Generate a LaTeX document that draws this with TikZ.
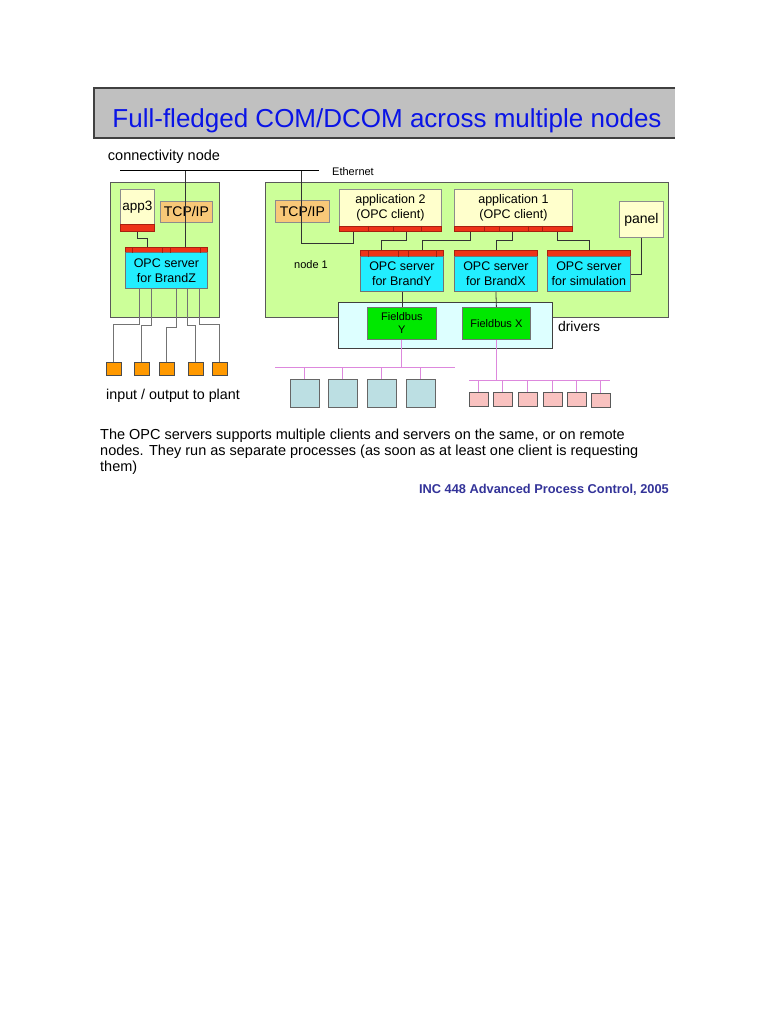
\documentclass[tikz,border=0pt]{standalone}
\usepackage{fontspec}
\setmainfont{Liberation Sans}
\definecolor{titlegray}{HTML}{C0C0C0}
\definecolor{titleblue}{HTML}{0A14E6}
\definecolor{nodegreen}{HTML}{CCFF99}
\definecolor{cream}{HTML}{FFFFCC}
\definecolor{tcporange}{HTML}{F8C878}
\definecolor{srvcyan}{HTML}{22EEFF}
\definecolor{barred}{HTML}{EE3318}
\definecolor{bardark}{HTML}{A82010}
\definecolor{drvcyan}{HTML}{DDFFFF}
\definecolor{fbgreen}{HTML}{00E800}
\definecolor{iorange}{HTML}{FF9900}
\definecolor{devblue}{HTML}{BCDFE3}
\definecolor{devpink}{HTML}{F9C2C0}
\definecolor{buspink}{HTML}{DD88DD}
\definecolor{footblue}{HTML}{333399}
\newcommand\fsz[2]{\fontsize{#1}{#2}\selectfont}
\tikzset{
  box/.style={anchor=north west, inner sep=0pt, align=center, line width=0.8pt},
  nodebox/.style={box, draw=black!65, fill=nodegreen},
  appbox/.style={box, draw=black!45, fill=cream, font=\fsz{12.5}{15}},
  tcpbox/.style={box, draw=black!45, fill=tcporange, font=\fsz{14}{16}},
  srvbox/.style={box, draw=black!55, fill=srvcyan, font=\fsz{12.5}{15}},
  redbar/.style={box, draw=bardark, fill=barred},
  divider/.style={draw=bardark, line width=0.8pt},
  drvbox/.style={box, draw=black!75, fill=drvcyan},
  fbbox/.style={box, draw=black!55, fill=fbgreen, font=\fsz{11}{13}},
  iobox/.style={box, draw=black!70, fill=iorange, minimum width=15pt, minimum height=13pt},
  devbbox/.style={box, draw=black!60, fill=devblue, minimum width=29pt, minimum height=28pt},
  devpbox/.style={box, draw=black!65, fill=devpink, minimum width=19pt, minimum height=14pt},
  wire/.style={draw=black!80, line width=0.8pt},
  iowire/.style={draw=black!55, line width=0.9pt},
  pinkwire/.style={draw=buspink, line width=0.9pt},
  lbl/.style={inner sep=0pt},
}
\begin{document}
\begin{tikzpicture}[x=1pt,y=-1pt]
\useasboundingbox (0,0) rectangle (768,1024);
\fill[white] (0,0) rectangle (768,1024);
% title
\fill[titlegray] (94,88) rectangle (675,138);
\draw[black!75, line width=1.2pt] (675,88) -- (94,88) -- (94,138) -- (675,138);
\node[lbl, text=titleblue, font=\fsz{26}{30}] (title) at (387,121) {Full-fledged COM/DCOM across multiple nodes};
% ethernet
\node[lbl, font=\fsz{14.5}{17}] (conn) at (164,157) {connectivity node};
\coordinate (eL) at (120,171);
\coordinate (eR) at (319,171);
\draw[black, line width=1pt] (eL) -- (eR);
\node[lbl, font=\fsz{11}{13}] (eth) at (353,172) {Ethernet};
% left node
\node[nodebox, minimum width=109pt, minimum height=135pt] (lnode) at (110,182) {};
\node[appbox, minimum width=34pt, minimum height=35pt, font=\fsz{13.5}{15}] (app3) at (120,189) {app3};
\node[redbar, minimum width=34pt, minimum height=7pt] (app3bar) at (120,224) {};
\node[tcpbox, minimum width=52pt, minimum height=21pt] (tcpL) at (160,201) {TCP/IP};
\node[redbar, minimum width=82pt, minimum height=5pt] (zbar) at (125,247) {};
\node[srvbox, minimum width=82pt, minimum height=36pt] (zbody) at (125,252) {OPC server\\for BrandZ};
\foreach \o in {7,37,45,75} \draw[divider] ([xshift=\o]zbar.north west) -- ([xshift=\o]zbar.south west);
\coordinate (ez) at (185,171);
\draw[wire] (ez) -- (ez |- zbar.north);
\draw[wire] (app3bar.south) -- ++(0,7) -| ([xshift=22]zbar.north west);
% IO squares
\node[iobox] (io1) at (106,362) {};
\node[iobox] (io2) at (134,362) {};
\node[iobox] (io3) at (159,362) {};
\node[iobox] (io4) at (188,362) {};
\node[iobox] (io5) at (212,362) {};
\draw[iowire] ([xshift=14]zbody.south west) -- ++(0,36) -| (io1.north);
\draw[iowire] ([xshift=26]zbody.south west) -- ++(0,37) -| (io2.north);
\draw[iowire] ([xshift=51]zbody.south west) -- ++(0,39) -| (io3.north);
\draw[iowire] ([xshift=62]zbody.south west) -- ++(0,37) -| (io4.north);
\draw[iowire] ([xshift=74]zbody.south west) -- ++(0,36) -| (io5.north);
\node[lbl, font=\fsz{14.3}{16}] (iolbl) at (173,396) {input / output to plant};
% right node
\node[nodebox, minimum width=403pt, minimum height=135pt] (rnode) at (265,182) {};
\node[tcpbox, minimum width=54pt, minimum height=22pt] (tcpR) at (275,200) {TCP/IP};
\node[appbox, minimum width=102pt, minimum height=37pt] (app2) at (339,189) {application 2\\(OPC client)};
\node[redbar, minimum width=102pt, minimum height=5pt] (app2bar) at (339,226) {};
\node[appbox, minimum width=118pt, minimum height=37pt] (app1) at (454,189) {application 1\\(OPC client)};
\node[redbar, minimum width=118pt, minimum height=5pt] (app1bar) at (454,226) {};
\node[appbox, minimum width=44pt, minimum height=36pt, font=\fsz{14}{16}] (panel) at (619,201) {panel};
\foreach \o in {29,54,82} \draw[divider] ([xshift=\o]app2bar.north west) -- ([xshift=\o]app2bar.south west);
\foreach \o in {30,45,74,88} \draw[divider] ([xshift=\o]app1bar.north west) -- ([xshift=\o]app1bar.south west);
\node[lbl, font=\fsz{11}{13}] (node1) at (311,265) {node 1};
\node[redbar, minimum width=83pt, minimum height=6pt] (sybar) at (360,250) {};
\node[srvbox, minimum width=83pt, minimum height=35pt] (sybody) at (360,256) {OPC server\\for BrandY};
\node[redbar, minimum width=83pt, minimum height=6pt] (sxbar) at (454,250) {};
\node[srvbox, minimum width=83pt, minimum height=35pt] (sxbody) at (454,256) {OPC server\\for BrandX};
\node[redbar, minimum width=83pt, minimum height=6pt] (ssbar) at (547,250) {};
\node[srvbox, minimum width=83pt, minimum height=35pt] (ssbody) at (547,256) {OPC server\\for simulation};
\foreach \o in {8,38,48,76} \draw[divider] ([xshift=\o]sybar.north west) -- ([xshift=\o]sybar.south west);
\coordinate (et) at (301,171);
\draw[wire] (et) -- ++(0,72) -| ([xshift=14]app2bar.south west);
\draw[wire] ([xshift=67]app2bar.south west) -- ++(0,9) -| ([xshift=21]sybar.north west);
\draw[wire] ([xshift=16]app1bar.south west) -- ++(0,9) -| ([xshift=62]sybar.north west);
\draw[wire] ([xshift=58]app1bar.south west) -- ++(0,9) -| ([xshift=42]sxbar.north west);
\draw[wire] ([xshift=103]app1bar.south west) -- ++(0,9) -| ([xshift=42]ssbar.north west);
\draw[wire] (panel.south) |- (ssbody.east);
% drivers
\node[drvbox, minimum width=214pt, minimum height=46pt] (drv) at (338,302) {};
\node[fbbox, minimum width=69pt, minimum height=32pt] (fby) at (367,307) {Fieldbus\\Y};
\node[fbbox, minimum width=68pt, minimum height=32pt] (fbx) at (462,307) {Fieldbus X};
\draw[wire] (sybody.south) -- (fby.north);
\draw[wire] (sxbody.south) -- (fbx.north);
\node[lbl, font=\fsz{14}{16}] (drvlbl) at (579,326) {drivers};
% fieldbus Y devices
\coordinate (byL) at (275,367);
\coordinate (byR) at (455,367);
\draw[pinkwire] (byL) -- (byR);
\draw[pinkwire] (fby.south) -- (fby.south |- byL);
\node[devbbox] (d1) at (290,379) {};
\node[devbbox] (d2) at (328,379) {};
\node[devbbox] (d3) at (367,379) {};
\node[devbbox] (d4) at (406,379) {};
\foreach \d in {d1,d2,d3,d4} \draw[pinkwire] (\d.north |- byL) -- (\d.north);
% fieldbus X devices
\coordinate (bxL) at (469,380);
\coordinate (bxR) at (610,380);
\draw[pinkwire] (bxL) -- (bxR);
\draw[pinkwire] (fbx.south) -- (fbx.south |- bxL);
\node[devpbox] (p1) at (469,392) {};
\node[devpbox] (p2) at (493,392) {};
\node[devpbox] (p3) at (518,392) {};
\node[devpbox] (p4) at (543,392) {};
\node[devpbox] (p5) at (567,392) {};
\node[devpbox] (p6) at (591,393) {};
\foreach \d in {p1,p2,p3,p4,p5,p6} \draw[pinkwire] (\d.north |- bxL) -- (\d.north);
% text
\node[lbl, anchor=west, align=left, font=\fsz{14.5}{16}] (para) at (100,452) {The OPC servers supports multiple clients and servers on the same, or on remote\\nodes. They run as separate processes (as soon as at least one client is requesting\\them)};
\node[lbl, anchor=east, text=footblue, font=\fsz{12.8}{15}\bfseries] (foot) at (669,490) {INC 448 Advanced Process Control, 2005};
\end{tikzpicture}
\end{document}
